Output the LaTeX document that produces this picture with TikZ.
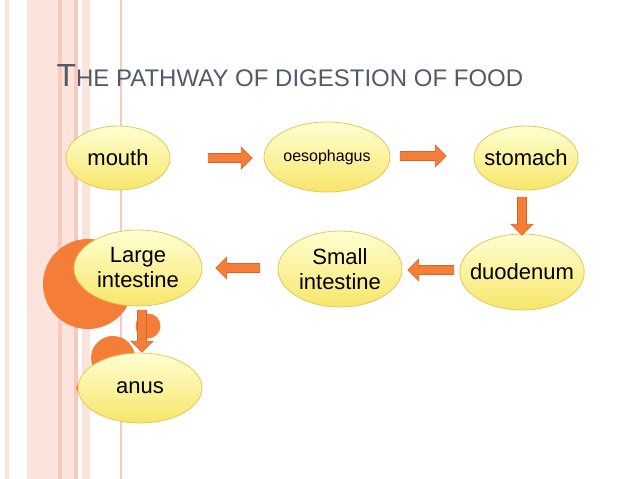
\documentclass[tikz,border=0pt]{standalone}
\usepackage{fontspec}
\setmainfont{Liberation Sans}
\usetikzlibrary{shapes.geometric,shapes.arrows}
\definecolor{stripe}{HTML}{F9C9BE}
\definecolor{stripeL}{HTML}{FCE3DC}
\definecolor{orng}{HTML}{F47D37}
\definecolor{orngD}{HTML}{D9652B}
\definecolor{yelT}{HTML}{FFFFD2}
\definecolor{yelB}{HTML}{F7E66A}
\definecolor{yelE}{HTML}{E6C658}
\definecolor{ttl}{HTML}{505A68}
\tikzset{
 organ/.style={ellipse,draw=yelE,line width=0.8pt,top color=yelT,bottom color=yelB,inner sep=-8pt,align=center,font=\fontsize{22}{25}\selectfont},
 barrow/.style={single arrow,draw=orngD,fill=orng,line width=0.6pt,minimum height=#1,minimum width=22pt,single arrow head extend=4pt,inner sep=2.5pt},
 dot/.style={circle,fill=orng,inner sep=0pt,minimum size=#1}
}
\begin{document}
\begin{tikzpicture}[x=1pt,y=-1pt]
\useasboundingbox (0,0) rectangle (638,479);
\fill[stripeL] (5,0) rectangle (9,479);
\fill[stripeL] (27,0) rectangle (58,479);
\fill[stripe] (58,0) rectangle (62,479);
\fill[stripeL] (62,0) rectangle (74,479);
\fill[stripe] (74,0) rectangle (78,479);
\fill[stripeL] (82,0) rectangle (90,479);
\fill[stripe] (120,0) rectangle (121.5,479);
\node[dot=90pt] (c1) at (88,284) {};
\node[dot=25pt] (c2) at (148,326) {};
\node[dot=44pt] (c3) at (113,358) {};
\node[dot=8pt] (c4) at (80,388) {};
\node[anchor=base west,text=ttl,font=\fontsize{32}{36}\selectfont] (t) at (53,86) {T{\fontsize{24}{28}\selectfont HE PATHWAY OF DIGESTION OF FOOD}};
\node[organ,minimum width=104pt,minimum height=64pt] (mouth) at (118,158) {mouth};
\node[organ,minimum width=126pt,minimum height=70pt,font=\fontsize{16}{19}\selectfont] (oes) at (327,157) {oesophagus};
\node[organ,minimum width=104pt,minimum height=64pt] (stom) at (526,158) {stomach};
\node[organ,minimum width=116pt,minimum height=76pt] (duo) at (522,272) {duodenum};
\node[organ,minimum width=124pt,minimum height=76pt] (small) at (340,269) {Small\\intestine};
\node[organ,minimum width=128pt,minimum height=76pt] (large) at (138,268) {Large\\intestine};
\node[organ,minimum width=124pt,minimum height=70pt] (anus) at (140,388) {anus};
\node[barrow=44pt] (a1) at (228,158) {};
\node[barrow=46pt] (a2) at (421,156) {};
\node[barrow=38pt,rotate=-90] (a3) at (522,214) {};
\node[barrow=46pt,rotate=180] (a4) at (433,270) {};
\node[barrow=44pt,rotate=180] (a5) at (240,268) {};
\node[barrow=42pt,rotate=-90] (a6) at (142,329) {};
\end{tikzpicture}
\end{document}
